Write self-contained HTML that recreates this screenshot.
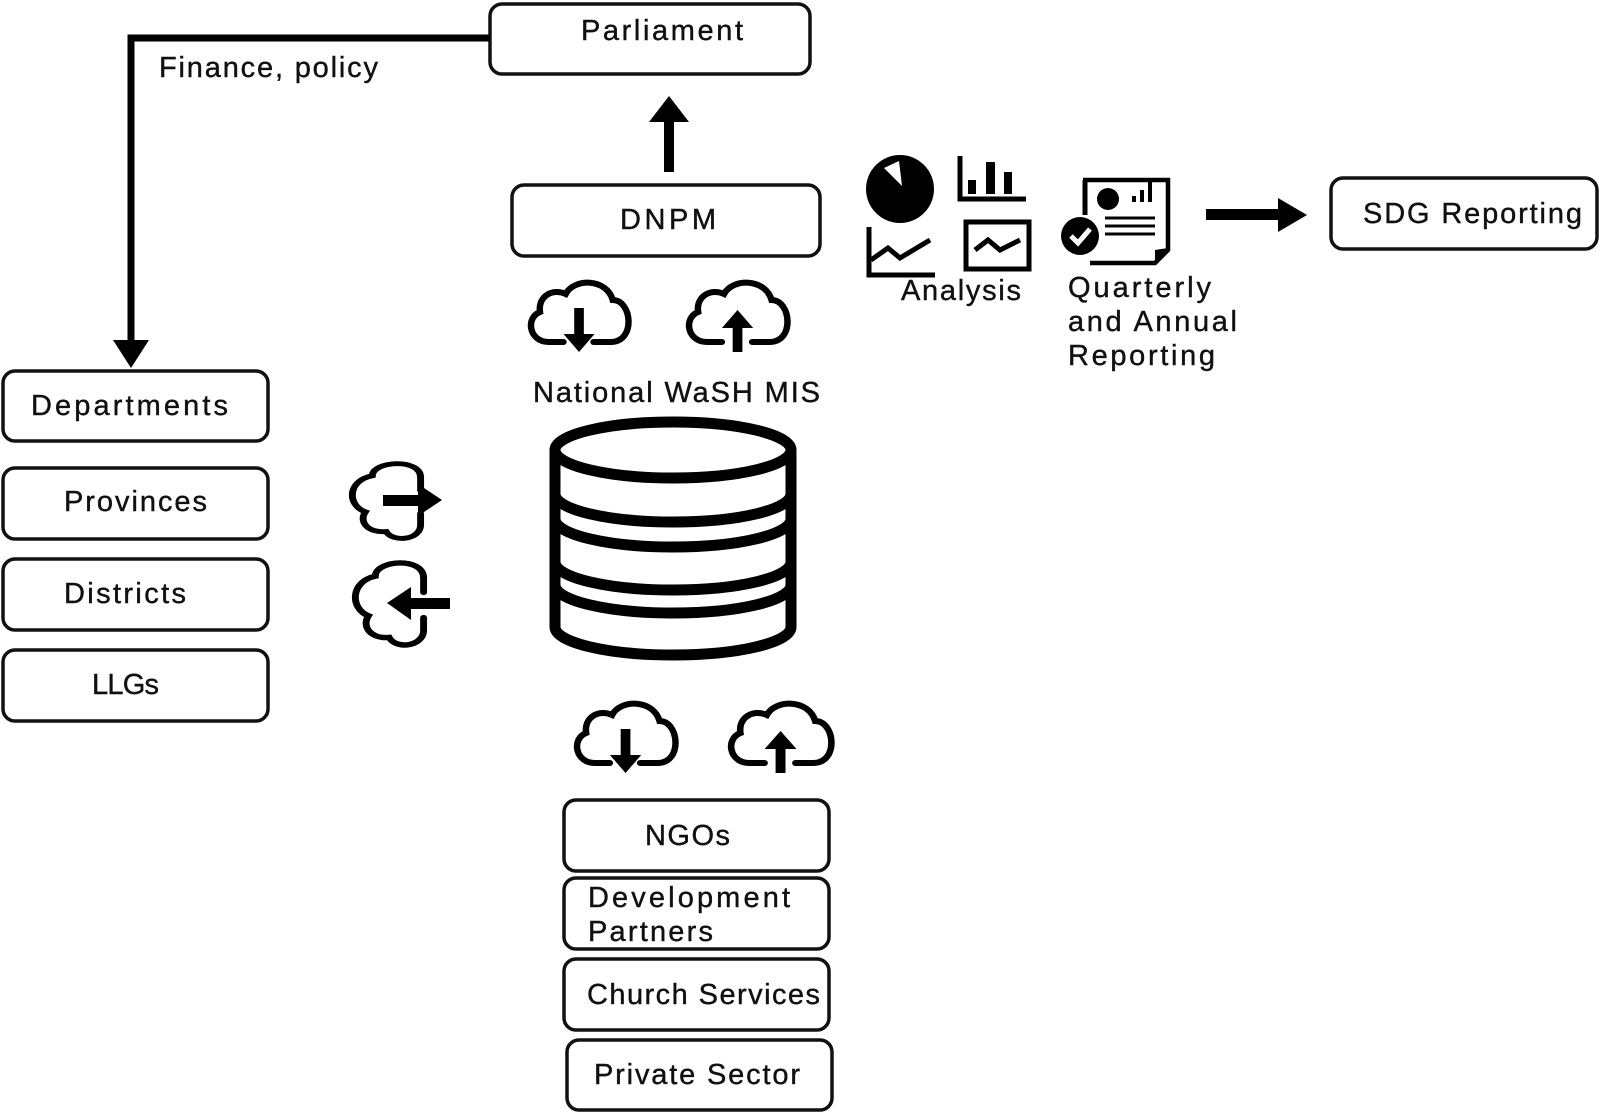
<!DOCTYPE html>
<html><head><meta charset="utf-8"><style>
html,body{margin:0;padding:0;background:#fff;}
svg{display:block;}
text{font-family:"Liberation Sans",sans-serif;font-size:29px;fill:#111;stroke:#111;stroke-width:0.4;}
</style></head><body>
<svg width="1605" height="1113" viewBox="0 0 1605 1113" xmlns="http://www.w3.org/2000/svg">
<defs>
<path id="cl" d="M36,64 L22,64 C4,64 0,40 14,34 C12,18 26,10 38,16 C46,0 76,0 82,22 C100,22 104,64 80,64 L64,64" fill="none" stroke="#000" stroke-width="6" stroke-linecap="round"/>
<g id="cdown"><use href="#cl"/><rect x="46" y="30" width="9" height="30" fill="#000"/><polygon points="36,56 65,56 50.5,74" fill="#000"/></g>
<g id="cup"><use href="#cl"/><rect x="46" y="46" width="9" height="28" fill="#000"/><polygon points="36,50 65,50 50.5,32" fill="#000"/></g>
</defs>
<g fill="#fff" stroke="#111" stroke-width="3.5">
<rect x="490" y="4" width="320" height="70" rx="12"/>
<rect x="512" y="185" width="308" height="71" rx="12"/>
<rect x="1331" y="178" width="266" height="71" rx="12"/>
<rect x="3" y="371" width="265" height="70" rx="12"/>
<rect x="3" y="468" width="265" height="71" rx="12"/>
<rect x="3" y="559" width="265" height="71" rx="12"/>
<rect x="3" y="650" width="265" height="71" rx="12"/>
<rect x="564" y="800" width="265" height="71" rx="12"/>
<rect x="564" y="878" width="265" height="71" rx="12"/>
<rect x="564" y="959" width="265" height="71" rx="12"/>
<rect x="567" y="1040" width="265" height="70" rx="12"/>
</g>
<text x="581" y="40" textLength="162" lengthAdjust="spacing">Parliament</text>
<text x="620" y="229" textLength="96" lengthAdjust="spacing">DNPM</text>
<text x="1363" y="223" textLength="219" lengthAdjust="spacing">SDG Reporting</text>
<text x="31" y="415" textLength="197" lengthAdjust="spacing">Departments</text>
<text x="64" y="511" textLength="143" lengthAdjust="spacing">Provinces</text>
<text x="64" y="603" textLength="122" lengthAdjust="spacing">Districts</text>
<text x="92" y="694" textLength="67" lengthAdjust="spacing">LLGs</text>
<text x="645" y="845" textLength="85" lengthAdjust="spacing">NGOs</text>
<text x="588" y="907" textLength="202" lengthAdjust="spacing">Development</text>
<text x="588" y="941" textLength="125" lengthAdjust="spacing">Partners</text>
<text x="587" y="1004" textLength="233" lengthAdjust="spacing">Church Services</text>
<text x="594" y="1084" textLength="206" lengthAdjust="spacing">Private Sector</text>
<text x="159" y="77" textLength="219" lengthAdjust="spacing">Finance, policy</text>
<text x="533" y="402" textLength="287" lengthAdjust="spacing">National WaSH MIS</text>
<text x="901" y="300" textLength="120" lengthAdjust="spacing">Analysis</text>
<text x="1068" y="297" textLength="143" lengthAdjust="spacing">Quarterly</text>
<text x="1068" y="331" textLength="169" lengthAdjust="spacing">and Annual</text>
<text x="1068" y="365" textLength="147" lengthAdjust="spacing">Reporting</text>
<polyline points="490,38 131,38 131,345" fill="none" stroke="#000" stroke-width="7"/>
<polygon points="113,340 149,340 131,368" fill="#000"/>
<rect x="664" y="118" width="10" height="54" fill="#000"/>
<polygon points="649,122 689,122 669,96" fill="#000"/>
<rect x="1206" y="209" width="74" height="11" fill="#000"/>
<polygon points="1278,198 1278,232 1307,215" fill="#000"/>
<use href="#cdown" transform="translate(525,278) scale(1.07,1.0)"/>
<use href="#cup" transform="translate(683,278) scale(1.08,1.0)"/>
<use href="#cdown" transform="translate(571,699) scale(1.08,1.0)"/>
<use href="#cup" transform="translate(725,699) scale(1.1,1.0)"/>
<g transform="translate(347,543) rotate(-90) scale(0.82,1.15)"><use href="#cl"/></g>
<rect x="383" y="495" width="38" height="11" fill="#000"/>
<polygon points="418,484 418,516 442,500" fill="#000"/>
<g transform="translate(350,650) rotate(-90) scale(0.9,1.15)"><use href="#cl"/></g>
<rect x="408" y="598" width="42" height="11" fill="#000"/>
<polygon points="411,587 411,620 387,603" fill="#000"/>
<g fill="#fff" stroke="#000" stroke-width="11">
<path d="M555,450 L555,627 A118,28 0 0 0 791,627 L791,450"/>
<ellipse cx="673" cy="450" rx="118" ry="28"/>
<path d="M555,494 A118,28 0 0 0 791,494" fill="none"/>
<path d="M555,519 A118,28 0 0 0 791,519" fill="none"/>
<path d="M555,562 A118,28 0 0 0 791,562" fill="none"/>
<path d="M555,585 A118,28 0 0 0 791,585" fill="none"/>
</g>
<circle cx="900" cy="189" r="34" fill="#000"/>
<polygon points="899,161 902,186 884,168" fill="#fff"/>
<g fill="none" stroke="#000" stroke-width="5">
<polyline points="960,156 960,199 1026,199"/>
<polyline points="869,227 869,275 935,275"/>
<polyline points="871,260 888,248 900,258 930,240"/>
<rect x="966" y="222" width="63" height="47"/>
<polyline points="975,250 988,240 1000,250 1020,240"/>
<path d="M1083,180 L1168,180 L1168,250 L1155,263 L1090,263" stroke-width="4.5"/>
<path d="M1085,180 L1085,215"/>
<line x1="1105" y1="218" x2="1155" y2="218" stroke-width="3"/>
<line x1="1105" y1="226" x2="1155" y2="226" stroke-width="3"/>
<line x1="1105" y1="234" x2="1155" y2="234" stroke-width="3"/>
</g>
<rect x="968" y="180" width="8" height="14" fill="#000"/>
<rect x="986" y="162" width="9" height="32" fill="#000"/>
<rect x="1004" y="172" width="8" height="22" fill="#000"/>
<circle cx="1108" cy="199" r="11" fill="#000"/>
<rect x="1132" y="196" width="4" height="6" fill="#000"/>
<rect x="1140" y="190" width="4" height="12" fill="#000"/>
<rect x="1148" y="182" width="4" height="20" fill="#000"/>
<circle cx="1080" cy="236" r="19" fill="#000"/>
<polyline points="1071,236 1078,243 1090,229" fill="none" stroke="#fff" stroke-width="5"/>
<polygon points="1168,248 1155,263 1155,250" fill="#000"/>
</svg>
</body></html>
